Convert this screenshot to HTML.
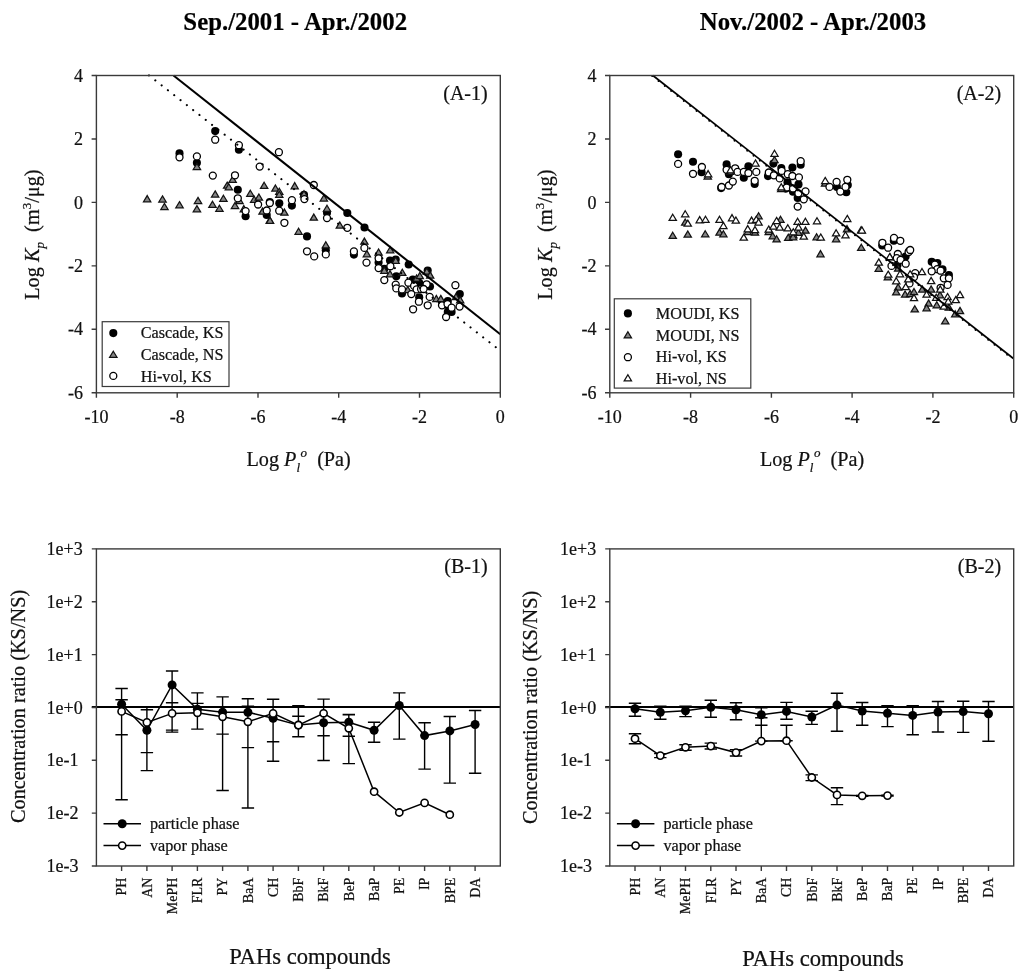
<!DOCTYPE html>
<html lang="en"><head><meta charset="utf-8"><title>PAHs gas/particle partitioning</title>
<style>html,body{margin:0;padding:0;background:#fff}svg{display:block;filter:blur(0.45px)}text{stroke:#111;stroke-width:.22px}</style></head>
<body>
<svg width="1024" height="978" viewBox="0 0 1024 978" font-family="'Liberation Serif', 'Times New Roman', serif" fill="#111">
<rect width="1024" height="978" fill="#fff"/>
<text x="295.2" y="29.5" font-size="24.8" font-weight="bold" text-anchor="middle" fill="#000">Sep./2001 - Apr./2002</text>
<text x="813" y="29.5" font-size="24.8" font-weight="bold" text-anchor="middle" fill="#000">Nov./2002 - Apr./2003</text>
<g>
<circle cx="215.2" cy="131.1" r="4.05" fill="#000"/>
<circle cx="179.5" cy="153.4" r="4.05" fill="#000"/>
<circle cx="196.9" cy="162.8" r="4.05" fill="#000"/>
<circle cx="238.9" cy="149.8" r="4.05" fill="#000"/>
<circle cx="237.8" cy="189.7" r="4.05" fill="#000"/>
<circle cx="279.3" cy="203.3" r="4.05" fill="#000"/>
<circle cx="245.6" cy="216.3" r="4.05" fill="#000"/>
<circle cx="266.7" cy="215.0" r="4.05" fill="#000"/>
<circle cx="269.8" cy="202.0" r="4.05" fill="#000"/>
<circle cx="291.9" cy="205.6" r="4.05" fill="#000"/>
<circle cx="304.0" cy="194.7" r="4.05" fill="#000"/>
<circle cx="327.0" cy="212.7" r="4.05" fill="#000"/>
<circle cx="347.3" cy="213.0" r="4.05" fill="#000"/>
<circle cx="364.5" cy="227.5" r="4.05" fill="#000"/>
<circle cx="307.0" cy="236.4" r="4.05" fill="#000"/>
<circle cx="325.8" cy="250.2" r="4.05" fill="#000"/>
<circle cx="353.9" cy="254.6" r="4.05" fill="#000"/>
<circle cx="378.6" cy="262.4" r="4.05" fill="#000"/>
<circle cx="390.0" cy="260.5" r="4.05" fill="#000"/>
<circle cx="395.7" cy="259.5" r="4.05" fill="#000"/>
<circle cx="408.7" cy="264.5" r="4.05" fill="#000"/>
<circle cx="384.3" cy="268.7" r="4.05" fill="#000"/>
<circle cx="396.3" cy="276.3" r="4.05" fill="#000"/>
<circle cx="412.8" cy="279.5" r="4.05" fill="#000"/>
<circle cx="419.2" cy="282.7" r="4.05" fill="#000"/>
<circle cx="427.7" cy="270.6" r="4.05" fill="#000"/>
<circle cx="430.0" cy="286.5" r="4.05" fill="#000"/>
<circle cx="402.0" cy="293.5" r="4.05" fill="#000"/>
<circle cx="419.2" cy="297.3" r="4.05" fill="#000"/>
<circle cx="447.8" cy="301.1" r="4.05" fill="#000"/>
<circle cx="447.8" cy="311.9" r="4.05" fill="#000"/>
<circle cx="451.6" cy="311.9" r="4.05" fill="#000"/>
<circle cx="459.8" cy="294.1" r="4.05" fill="#000"/>
<polygon points="147.2,195.6 150.8,201.8 143.5,201.8" fill="#858585" stroke="#111" stroke-width="1.25" stroke-linejoin="miter"/>
<polygon points="162.5,195.9 166.2,202.0 158.8,202.0" fill="#858585" stroke="#111" stroke-width="1.25" stroke-linejoin="miter"/>
<polygon points="164.4,203.4 168.1,209.5 160.8,209.5" fill="#858585" stroke="#111" stroke-width="1.25" stroke-linejoin="miter"/>
<polygon points="179.5,201.6 183.2,207.8 175.8,207.8" fill="#858585" stroke="#111" stroke-width="1.25" stroke-linejoin="miter"/>
<polygon points="198.0,197.4 201.7,203.5 194.3,203.5" fill="#858585" stroke="#111" stroke-width="1.25" stroke-linejoin="miter"/>
<polygon points="196.9,205.6 200.6,211.8 193.2,211.8" fill="#858585" stroke="#111" stroke-width="1.25" stroke-linejoin="miter"/>
<polygon points="196.9,163.4 200.6,169.5 193.2,169.5" fill="#858585" stroke="#111" stroke-width="1.25" stroke-linejoin="miter"/>
<polygon points="215.2,190.9 218.8,197.0 211.5,197.0" fill="#858585" stroke="#111" stroke-width="1.25" stroke-linejoin="miter"/>
<polygon points="212.5,201.3 216.2,207.4 208.8,207.4" fill="#858585" stroke="#111" stroke-width="1.25" stroke-linejoin="miter"/>
<polygon points="223.4,195.2 227.1,201.3 219.8,201.3" fill="#858585" stroke="#111" stroke-width="1.25" stroke-linejoin="miter"/>
<polygon points="219.4,205.2 223.1,211.3 215.8,211.3" fill="#858585" stroke="#111" stroke-width="1.25" stroke-linejoin="miter"/>
<polygon points="232.7,176.3 236.3,182.4 229.0,182.4" fill="#858585" stroke="#111" stroke-width="1.25" stroke-linejoin="miter"/>
<polygon points="227.2,182.1 230.8,188.2 223.5,188.2" fill="#858585" stroke="#111" stroke-width="1.25" stroke-linejoin="miter"/>
<polygon points="228.8,183.7 232.5,189.8 225.2,189.8" fill="#858585" stroke="#111" stroke-width="1.25" stroke-linejoin="miter"/>
<polygon points="235.0,202.4 238.7,208.5 231.3,208.5" fill="#858585" stroke="#111" stroke-width="1.25" stroke-linejoin="miter"/>
<polygon points="239.4,197.4 243.1,203.5 235.8,203.5" fill="#858585" stroke="#111" stroke-width="1.25" stroke-linejoin="miter"/>
<polygon points="250.3,190.2 254.0,196.3 246.7,196.3" fill="#858585" stroke="#111" stroke-width="1.25" stroke-linejoin="miter"/>
<polygon points="254.2,196.2 257.8,202.3 250.5,202.3" fill="#858585" stroke="#111" stroke-width="1.25" stroke-linejoin="miter"/>
<polygon points="258.9,194.0 262.5,200.1 255.2,200.1" fill="#858585" stroke="#111" stroke-width="1.25" stroke-linejoin="miter"/>
<polygon points="264.1,182.3 267.8,188.4 260.5,188.4" fill="#858585" stroke="#111" stroke-width="1.25" stroke-linejoin="miter"/>
<polygon points="275.4,185.0 279.0,191.1 271.8,191.1" fill="#858585" stroke="#111" stroke-width="1.25" stroke-linejoin="miter"/>
<polygon points="279.3,188.2 282.9,194.3 275.7,194.3" fill="#858585" stroke="#111" stroke-width="1.25" stroke-linejoin="miter"/>
<polygon points="279.3,191.2 282.9,197.3 275.7,197.3" fill="#858585" stroke="#111" stroke-width="1.25" stroke-linejoin="miter"/>
<polygon points="262.5,208.1 266.1,214.2 258.9,214.2" fill="#858585" stroke="#111" stroke-width="1.25" stroke-linejoin="miter"/>
<polygon points="269.8,217.1 273.4,223.2 266.2,223.2" fill="#858585" stroke="#111" stroke-width="1.25" stroke-linejoin="miter"/>
<polygon points="284.4,209.1 288.0,215.2 280.8,215.2" fill="#858585" stroke="#111" stroke-width="1.25" stroke-linejoin="miter"/>
<polygon points="243.8,205.6 247.5,211.8 240.2,211.8" fill="#858585" stroke="#111" stroke-width="1.25" stroke-linejoin="miter"/>
<polygon points="270.0,217.3 273.6,223.4 266.4,223.4" fill="#858585" stroke="#111" stroke-width="1.25" stroke-linejoin="miter"/>
<polygon points="294.7,182.6 298.3,188.8 291.1,188.8" fill="#858585" stroke="#111" stroke-width="1.25" stroke-linejoin="miter"/>
<polygon points="304.0,190.7 307.6,196.8 300.4,196.8" fill="#858585" stroke="#111" stroke-width="1.25" stroke-linejoin="miter"/>
<polygon points="323.9,194.9 327.5,201.0 320.2,201.0" fill="#858585" stroke="#111" stroke-width="1.25" stroke-linejoin="miter"/>
<polygon points="327.0,205.2 330.6,211.3 323.4,211.3" fill="#858585" stroke="#111" stroke-width="1.25" stroke-linejoin="miter"/>
<polygon points="313.8,214.1 317.4,220.2 310.2,220.2" fill="#858585" stroke="#111" stroke-width="1.25" stroke-linejoin="miter"/>
<polygon points="339.8,222.0 343.4,228.1 336.2,228.1" fill="#858585" stroke="#111" stroke-width="1.25" stroke-linejoin="miter"/>
<polygon points="298.6,228.2 302.2,234.3 295.0,234.3" fill="#858585" stroke="#111" stroke-width="1.25" stroke-linejoin="miter"/>
<polygon points="325.8,241.8 329.4,247.9 322.2,247.9" fill="#858585" stroke="#111" stroke-width="1.25" stroke-linejoin="miter"/>
<polygon points="364.4,238.1 368.0,244.2 360.8,244.2" fill="#858585" stroke="#111" stroke-width="1.25" stroke-linejoin="miter"/>
<polygon points="366.9,250.6 370.5,256.8 363.2,256.8" fill="#858585" stroke="#111" stroke-width="1.25" stroke-linejoin="miter"/>
<polygon points="378.6,249.0 382.2,255.1 375.0,255.1" fill="#858585" stroke="#111" stroke-width="1.25" stroke-linejoin="miter"/>
<polygon points="390.2,246.7 393.8,252.8 386.6,252.8" fill="#858585" stroke="#111" stroke-width="1.25" stroke-linejoin="miter"/>
<polygon points="395.7,257.3 399.3,263.4 392.1,263.4" fill="#858585" stroke="#111" stroke-width="1.25" stroke-linejoin="miter"/>
<polygon points="384.3,267.2 387.9,273.3 380.7,273.3" fill="#858585" stroke="#111" stroke-width="1.25" stroke-linejoin="miter"/>
<polygon points="390.0,270.6 393.6,276.8 386.4,276.8" fill="#858585" stroke="#111" stroke-width="1.25" stroke-linejoin="miter"/>
<polygon points="402.3,269.3 405.9,275.4 398.7,275.4" fill="#858585" stroke="#111" stroke-width="1.25" stroke-linejoin="miter"/>
<polygon points="416.6,275.0 420.2,281.1 413.0,281.1" fill="#858585" stroke="#111" stroke-width="1.25" stroke-linejoin="miter"/>
<polygon points="419.8,272.5 423.4,278.6 416.2,278.6" fill="#858585" stroke="#111" stroke-width="1.25" stroke-linejoin="miter"/>
<polygon points="426.8,268.1 430.4,274.2 423.2,274.2" fill="#858585" stroke="#111" stroke-width="1.25" stroke-linejoin="miter"/>
<polygon points="430.2,271.9 433.8,278.1 426.6,278.1" fill="#858585" stroke="#111" stroke-width="1.25" stroke-linejoin="miter"/>
<polygon points="407.8,286.5 411.4,292.6 404.2,292.6" fill="#858585" stroke="#111" stroke-width="1.25" stroke-linejoin="miter"/>
<polygon points="436.3,295.4 439.9,301.6 432.7,301.6" fill="#858585" stroke="#111" stroke-width="1.25" stroke-linejoin="miter"/>
<polygon points="440.8,295.4 444.4,301.6 437.2,301.6" fill="#858585" stroke="#111" stroke-width="1.25" stroke-linejoin="miter"/>
<polygon points="456.0,293.4 459.6,299.6 452.4,299.6" fill="#858585" stroke="#111" stroke-width="1.25" stroke-linejoin="miter"/>
<polygon points="460.2,296.6 463.8,302.8 456.6,302.8" fill="#858585" stroke="#111" stroke-width="1.25" stroke-linejoin="miter"/>
<circle cx="215.2" cy="139.7" r="3.5" fill="#fff" stroke="#000" stroke-width="1.3"/>
<circle cx="179.5" cy="157.3" r="3.5" fill="#fff" stroke="#000" stroke-width="1.3"/>
<circle cx="196.9" cy="156.4" r="3.5" fill="#fff" stroke="#000" stroke-width="1.3"/>
<circle cx="238.9" cy="145.2" r="3.5" fill="#fff" stroke="#000" stroke-width="1.3"/>
<circle cx="278.9" cy="152.2" r="3.5" fill="#fff" stroke="#000" stroke-width="1.3"/>
<circle cx="259.7" cy="166.6" r="3.5" fill="#fff" stroke="#000" stroke-width="1.3"/>
<circle cx="212.8" cy="175.6" r="3.5" fill="#fff" stroke="#000" stroke-width="1.3"/>
<circle cx="235.0" cy="175.3" r="3.5" fill="#fff" stroke="#000" stroke-width="1.3"/>
<circle cx="237.8" cy="198.3" r="3.5" fill="#fff" stroke="#000" stroke-width="1.3"/>
<circle cx="258.1" cy="204.5" r="3.5" fill="#fff" stroke="#000" stroke-width="1.3"/>
<circle cx="269.8" cy="203.0" r="3.5" fill="#fff" stroke="#000" stroke-width="1.3"/>
<circle cx="245.6" cy="211.1" r="3.5" fill="#fff" stroke="#000" stroke-width="1.3"/>
<circle cx="266.7" cy="210.5" r="3.5" fill="#fff" stroke="#000" stroke-width="1.3"/>
<circle cx="279.2" cy="210.7" r="3.5" fill="#fff" stroke="#000" stroke-width="1.3"/>
<circle cx="284.4" cy="222.8" r="3.5" fill="#fff" stroke="#000" stroke-width="1.3"/>
<circle cx="313.8" cy="185.0" r="3.5" fill="#fff" stroke="#000" stroke-width="1.3"/>
<circle cx="291.9" cy="200.2" r="3.5" fill="#fff" stroke="#000" stroke-width="1.3"/>
<circle cx="304.4" cy="199.1" r="3.5" fill="#fff" stroke="#000" stroke-width="1.3"/>
<circle cx="327.0" cy="218.1" r="3.5" fill="#fff" stroke="#000" stroke-width="1.3"/>
<circle cx="347.3" cy="227.8" r="3.5" fill="#fff" stroke="#000" stroke-width="1.3"/>
<circle cx="307.0" cy="251.3" r="3.5" fill="#fff" stroke="#000" stroke-width="1.3"/>
<circle cx="314.2" cy="256.4" r="3.5" fill="#fff" stroke="#000" stroke-width="1.3"/>
<circle cx="325.8" cy="254.4" r="3.5" fill="#fff" stroke="#000" stroke-width="1.3"/>
<circle cx="353.9" cy="251.4" r="3.5" fill="#fff" stroke="#000" stroke-width="1.3"/>
<circle cx="364.4" cy="247.9" r="3.5" fill="#fff" stroke="#000" stroke-width="1.3"/>
<circle cx="378.6" cy="258.3" r="3.5" fill="#fff" stroke="#000" stroke-width="1.3"/>
<circle cx="366.5" cy="262.6" r="3.5" fill="#fff" stroke="#000" stroke-width="1.3"/>
<circle cx="378.6" cy="268.1" r="3.5" fill="#fff" stroke="#000" stroke-width="1.3"/>
<circle cx="390.4" cy="266.2" r="3.5" fill="#fff" stroke="#000" stroke-width="1.3"/>
<circle cx="384.3" cy="280.1" r="3.5" fill="#fff" stroke="#000" stroke-width="1.3"/>
<circle cx="395.7" cy="284.6" r="3.5" fill="#fff" stroke="#000" stroke-width="1.3"/>
<circle cx="396.3" cy="288.4" r="3.5" fill="#fff" stroke="#000" stroke-width="1.3"/>
<circle cx="402.0" cy="289.4" r="3.5" fill="#fff" stroke="#000" stroke-width="1.3"/>
<circle cx="408.4" cy="282.7" r="3.5" fill="#fff" stroke="#000" stroke-width="1.3"/>
<circle cx="414.1" cy="285.9" r="3.5" fill="#fff" stroke="#000" stroke-width="1.3"/>
<circle cx="416.6" cy="289.4" r="3.5" fill="#fff" stroke="#000" stroke-width="1.3"/>
<circle cx="411.3" cy="294.1" r="3.5" fill="#fff" stroke="#000" stroke-width="1.3"/>
<circle cx="421.1" cy="289.0" r="3.5" fill="#fff" stroke="#000" stroke-width="1.3"/>
<circle cx="426.6" cy="284.3" r="3.5" fill="#fff" stroke="#000" stroke-width="1.3"/>
<circle cx="429.7" cy="296.9" r="3.5" fill="#fff" stroke="#000" stroke-width="1.3"/>
<circle cx="418.9" cy="301.7" r="3.5" fill="#fff" stroke="#000" stroke-width="1.3"/>
<circle cx="427.7" cy="305.3" r="3.5" fill="#fff" stroke="#000" stroke-width="1.3"/>
<circle cx="413.1" cy="309.3" r="3.5" fill="#fff" stroke="#000" stroke-width="1.3"/>
<circle cx="442.0" cy="305.3" r="3.5" fill="#fff" stroke="#000" stroke-width="1.3"/>
<circle cx="447.5" cy="304.0" r="3.5" fill="#fff" stroke="#000" stroke-width="1.3"/>
<circle cx="451.6" cy="307.7" r="3.5" fill="#fff" stroke="#000" stroke-width="1.3"/>
<circle cx="446.1" cy="317.0" r="3.5" fill="#fff" stroke="#000" stroke-width="1.3"/>
<circle cx="459.6" cy="306.6" r="3.5" fill="#fff" stroke="#000" stroke-width="1.3"/>
<circle cx="455.4" cy="285.2" r="3.5" fill="#fff" stroke="#000" stroke-width="1.3"/>
<circle cx="423.6" cy="289.0" r="3.5" fill="#fff" stroke="#000" stroke-width="1.3"/>
<line x1="149" y1="75.4" x2="500" y2="350.5" stroke="#000" stroke-width="2.1" stroke-linecap="round" stroke-dasharray="0.1 7.91"/>
<line x1="173.5" y1="75.5" x2="500.3" y2="334.2" stroke="#000" stroke-width="2.05"/>
</g>
<rect x="96.4" y="75.5" width="403.9" height="317.3" fill="none" stroke="#3a3a3a" stroke-width="1.4"/>
<g>
<path d="M96.4,392.8v5M96.4,75.5h-4.8M177.2,392.8v5M96.4,139.0h-4.8M258.0,392.8v5M96.4,202.4h-4.8M338.7,392.8v5M96.4,265.9h-4.8M419.5,392.8v5M96.4,329.3h-4.8M500.3,392.8v5M96.4,392.8h-4.8" stroke="#3a3a3a" stroke-width="1.4" fill="none"/>
<text x="96.4" y="423.4" font-size="18" text-anchor="middle">-10</text>
<text x="177.2" y="423.4" font-size="18" text-anchor="middle">-8</text>
<text x="258.0" y="423.4" font-size="18" text-anchor="middle">-6</text>
<text x="338.7" y="423.4" font-size="18" text-anchor="middle">-4</text>
<text x="419.5" y="423.4" font-size="18" text-anchor="middle">-2</text>
<text x="500.3" y="423.4" font-size="18" text-anchor="middle">0</text>
<text x="83.0" y="81.6" font-size="18" text-anchor="end">4</text>
<text x="83.0" y="145.1" font-size="18" text-anchor="end">2</text>
<text x="83.0" y="208.5" font-size="18" text-anchor="end">0</text>
<text x="83.0" y="272.0" font-size="18" text-anchor="end">-2</text>
<text x="83.0" y="335.4" font-size="18" text-anchor="end">-4</text>
<text x="83.0" y="398.9" font-size="18" text-anchor="end">-6</text>
<text x="487.7" y="99.8" font-size="20" text-anchor="end">(A-1)</text>
<text transform="translate(38.7,299.8) rotate(-90)" font-size="20.3">Log <tspan font-style="italic">K</tspan><tspan font-style="italic" font-size="13" dy="5">p</tspan><tspan dy="-5" xml:space="preserve">  (m</tspan><tspan font-size="13" dy="-8">3</tspan><tspan dy="8">/μg)</tspan></text>
<text x="246.5" y="466.1" font-size="20.2" xml:space="preserve">Log <tspan font-style="italic">P</tspan><tspan font-style="italic" font-size="13" dy="5.5">l</tspan><tspan font-style="italic" font-size="13" dy="-14.5" dx="0.5">o</tspan><tspan dy="9">  (Pa)</tspan></text>
</g>
<rect x="102.2" y="321.7" width="126.8" height="64.8" fill="#fff" stroke="#3a3a3a" stroke-width="1.2"/>
<circle cx="113.3" cy="333.1" r="4.05" fill="#000"/>
<polygon points="113.3,351.2 117.0,357.3 109.6,357.3" fill="#858585" stroke="#111" stroke-width="1.25" stroke-linejoin="miter"/>
<circle cx="113.3" cy="375.9" r="3.5" fill="#fff" stroke="#000" stroke-width="1.3"/>
<text x="140.8" y="338.1" font-size="16.2">Cascade, KS</text>
<text x="140.8" y="359.8" font-size="16.2">Cascade, NS</text>
<text x="140.8" y="381.5" font-size="16.2">Hi-vol, KS</text>
<g>
<circle cx="678.1" cy="154.2" r="4.05" fill="#000"/>
<circle cx="693.0" cy="161.7" r="4.05" fill="#000"/>
<circle cx="701.6" cy="172.2" r="4.05" fill="#000"/>
<circle cx="726.6" cy="164.4" r="4.05" fill="#000"/>
<circle cx="728.9" cy="174.2" r="4.05" fill="#000"/>
<circle cx="743.8" cy="177.7" r="4.05" fill="#000"/>
<circle cx="748.4" cy="166.3" r="4.05" fill="#000"/>
<circle cx="754.7" cy="183.9" r="4.05" fill="#000"/>
<circle cx="768.0" cy="176.1" r="4.05" fill="#000"/>
<circle cx="773.4" cy="163.6" r="4.05" fill="#000"/>
<circle cx="781.3" cy="168.0" r="4.05" fill="#000"/>
<circle cx="792.4" cy="167.6" r="4.05" fill="#000"/>
<circle cx="800.7" cy="164.7" r="4.05" fill="#000"/>
<circle cx="787.5" cy="182.3" r="4.05" fill="#000"/>
<circle cx="798.5" cy="184.4" r="4.05" fill="#000"/>
<circle cx="793.0" cy="191.7" r="4.05" fill="#000"/>
<circle cx="797.7" cy="197.9" r="4.05" fill="#000"/>
<circle cx="785.9" cy="188.6" r="4.05" fill="#000"/>
<circle cx="721.1" cy="188.1" r="4.05" fill="#000"/>
<circle cx="836.9" cy="186.9" r="4.05" fill="#000"/>
<circle cx="846.3" cy="192.3" r="4.05" fill="#000"/>
<circle cx="847.8" cy="185.0" r="4.05" fill="#000"/>
<circle cx="882.2" cy="245.5" r="4.05" fill="#000"/>
<circle cx="893.8" cy="240.8" r="4.05" fill="#000"/>
<circle cx="905.6" cy="256.5" r="4.05" fill="#000"/>
<circle cx="909.2" cy="251.0" r="4.05" fill="#000"/>
<circle cx="931.7" cy="261.8" r="4.05" fill="#000"/>
<circle cx="937.4" cy="263.1" r="4.05" fill="#000"/>
<circle cx="942.5" cy="269.4" r="4.05" fill="#000"/>
<circle cx="948.9" cy="275.1" r="4.05" fill="#000"/>
<circle cx="897.5" cy="265.0" r="4.05" fill="#000"/>
<polygon points="672.7,232.3 676.4,238.4 669.1,238.4" fill="#858585" stroke="#111" stroke-width="1.25" stroke-linejoin="miter"/>
<polygon points="687.8,231.0 691.4,237.1 684.1,237.1" fill="#858585" stroke="#111" stroke-width="1.25" stroke-linejoin="miter"/>
<polygon points="705.2,230.7 708.9,236.8 701.6,236.8" fill="#858585" stroke="#111" stroke-width="1.25" stroke-linejoin="miter"/>
<polygon points="719.5,229.1 723.1,235.2 715.9,235.2" fill="#858585" stroke="#111" stroke-width="1.25" stroke-linejoin="miter"/>
<polygon points="723.4,230.7 727.0,236.8 719.8,236.8" fill="#858585" stroke="#111" stroke-width="1.25" stroke-linejoin="miter"/>
<polygon points="707.8,172.9 711.4,179.0 704.1,179.0" fill="#858585" stroke="#111" stroke-width="1.25" stroke-linejoin="miter"/>
<polygon points="730.0,168.2 733.6,174.3 726.4,174.3" fill="#858585" stroke="#111" stroke-width="1.25" stroke-linejoin="miter"/>
<polygon points="774.5,156.5 778.1,162.6 770.9,162.6" fill="#858585" stroke="#111" stroke-width="1.25" stroke-linejoin="miter"/>
<polygon points="758.6,212.7 762.2,218.8 755.0,218.8" fill="#858585" stroke="#111" stroke-width="1.25" stroke-linejoin="miter"/>
<polygon points="781.3,185.4 784.9,191.5 777.6,191.5" fill="#858585" stroke="#111" stroke-width="1.25" stroke-linejoin="miter"/>
<polygon points="685.2,219.0 688.9,225.1 681.6,225.1" fill="#858585" stroke="#111" stroke-width="1.25" stroke-linejoin="miter"/>
<polygon points="747.7,228.4 751.4,234.5 744.1,234.5" fill="#858585" stroke="#111" stroke-width="1.25" stroke-linejoin="miter"/>
<polygon points="755.0,229.1 758.6,235.2 751.4,235.2" fill="#858585" stroke="#111" stroke-width="1.25" stroke-linejoin="miter"/>
<polygon points="768.8,228.4 772.4,234.5 765.1,234.5" fill="#858585" stroke="#111" stroke-width="1.25" stroke-linejoin="miter"/>
<polygon points="772.7,232.7 776.4,238.8 769.1,238.8" fill="#858585" stroke="#111" stroke-width="1.25" stroke-linejoin="miter"/>
<polygon points="776.6,235.8 780.2,241.9 773.0,241.9" fill="#858585" stroke="#111" stroke-width="1.25" stroke-linejoin="miter"/>
<polygon points="788.3,234.3 791.9,240.4 784.6,240.4" fill="#858585" stroke="#111" stroke-width="1.25" stroke-linejoin="miter"/>
<polygon points="793.4,231.8 797.0,237.9 789.8,237.9" fill="#858585" stroke="#111" stroke-width="1.25" stroke-linejoin="miter"/>
<polygon points="798.4,229.3 802.0,235.4 794.8,235.4" fill="#858585" stroke="#111" stroke-width="1.25" stroke-linejoin="miter"/>
<polygon points="805.5,227.1 809.1,233.2 801.9,233.2" fill="#858585" stroke="#111" stroke-width="1.25" stroke-linejoin="miter"/>
<polygon points="780.5,216.2 784.1,222.3 776.9,222.3" fill="#858585" stroke="#111" stroke-width="1.25" stroke-linejoin="miter"/>
<polygon points="825.0,180.1 828.6,186.2 821.4,186.2" fill="#858585" stroke="#111" stroke-width="1.25" stroke-linejoin="miter"/>
<polygon points="793.1,233.7 796.8,239.8 789.5,239.8" fill="#858585" stroke="#111" stroke-width="1.25" stroke-linejoin="miter"/>
<polygon points="816.6,233.7 820.2,239.8 813.0,239.8" fill="#858585" stroke="#111" stroke-width="1.25" stroke-linejoin="miter"/>
<polygon points="836.1,235.6 839.8,241.8 832.5,241.8" fill="#858585" stroke="#111" stroke-width="1.25" stroke-linejoin="miter"/>
<polygon points="847.0,225.6 850.6,231.8 843.4,231.8" fill="#858585" stroke="#111" stroke-width="1.25" stroke-linejoin="miter"/>
<polygon points="861.3,244.3 864.9,250.4 857.6,250.4" fill="#858585" stroke="#111" stroke-width="1.25" stroke-linejoin="miter"/>
<polygon points="820.5,250.6 824.1,256.8 816.9,256.8" fill="#858585" stroke="#111" stroke-width="1.25" stroke-linejoin="miter"/>
<polygon points="878.8,265.2 882.4,271.3 875.1,271.3" fill="#858585" stroke="#111" stroke-width="1.25" stroke-linejoin="miter"/>
<polygon points="887.9,273.8 891.5,279.9 884.2,279.9" fill="#858585" stroke="#111" stroke-width="1.25" stroke-linejoin="miter"/>
<polygon points="898.1,284.0 901.8,290.1 894.5,290.1" fill="#858585" stroke="#111" stroke-width="1.25" stroke-linejoin="miter"/>
<polygon points="896.2,288.8 899.9,294.9 892.6,294.9" fill="#858585" stroke="#111" stroke-width="1.25" stroke-linejoin="miter"/>
<polygon points="905.1,291.0 908.8,297.1 901.5,297.1" fill="#858585" stroke="#111" stroke-width="1.25" stroke-linejoin="miter"/>
<polygon points="910.1,290.4 913.8,296.6 906.5,296.6" fill="#858585" stroke="#111" stroke-width="1.25" stroke-linejoin="miter"/>
<polygon points="914.0,288.5 917.6,294.6 910.4,294.6" fill="#858585" stroke="#111" stroke-width="1.25" stroke-linejoin="miter"/>
<polygon points="922.2,285.9 925.9,292.1 918.6,292.1" fill="#858585" stroke="#111" stroke-width="1.25" stroke-linejoin="miter"/>
<polygon points="931.1,285.9 934.8,292.1 927.5,292.1" fill="#858585" stroke="#111" stroke-width="1.25" stroke-linejoin="miter"/>
<polygon points="940.0,291.6 943.6,297.8 936.4,297.8" fill="#858585" stroke="#111" stroke-width="1.25" stroke-linejoin="miter"/>
<polygon points="928.6,299.9 932.2,306.1 925.0,306.1" fill="#858585" stroke="#111" stroke-width="1.25" stroke-linejoin="miter"/>
<polygon points="926.6,304.6 930.2,310.8 923.0,310.8" fill="#858585" stroke="#111" stroke-width="1.25" stroke-linejoin="miter"/>
<polygon points="936.8,301.8 940.4,307.9 933.1,307.9" fill="#858585" stroke="#111" stroke-width="1.25" stroke-linejoin="miter"/>
<polygon points="914.8,305.8 918.4,311.9 911.1,311.9" fill="#858585" stroke="#111" stroke-width="1.25" stroke-linejoin="miter"/>
<polygon points="948.9,304.1 952.5,310.2 945.2,310.2" fill="#858585" stroke="#111" stroke-width="1.25" stroke-linejoin="miter"/>
<polygon points="955.2,310.7 958.9,316.8 951.6,316.8" fill="#858585" stroke="#111" stroke-width="1.25" stroke-linejoin="miter"/>
<polygon points="960.0,307.4 963.6,313.6 956.4,313.6" fill="#858585" stroke="#111" stroke-width="1.25" stroke-linejoin="miter"/>
<polygon points="945.3,317.8 948.9,323.9 941.6,323.9" fill="#858585" stroke="#111" stroke-width="1.25" stroke-linejoin="miter"/>
<polygon points="898.1,265.0 901.8,271.1 894.5,271.1" fill="#858585" stroke="#111" stroke-width="1.25" stroke-linejoin="miter"/>
<circle cx="678.1" cy="163.9" r="3.5" fill="#fff" stroke="#000" stroke-width="1.3"/>
<circle cx="693.0" cy="173.8" r="3.5" fill="#fff" stroke="#000" stroke-width="1.3"/>
<circle cx="701.9" cy="167.0" r="3.5" fill="#fff" stroke="#000" stroke-width="1.3"/>
<circle cx="721.6" cy="187.0" r="3.5" fill="#fff" stroke="#000" stroke-width="1.3"/>
<circle cx="728.9" cy="185.5" r="3.5" fill="#fff" stroke="#000" stroke-width="1.3"/>
<circle cx="732.8" cy="181.6" r="3.5" fill="#fff" stroke="#000" stroke-width="1.3"/>
<circle cx="726.6" cy="169.8" r="3.5" fill="#fff" stroke="#000" stroke-width="1.3"/>
<circle cx="735.2" cy="168.3" r="3.5" fill="#fff" stroke="#000" stroke-width="1.3"/>
<circle cx="737.5" cy="171.9" r="3.5" fill="#fff" stroke="#000" stroke-width="1.3"/>
<circle cx="743.8" cy="171.9" r="3.5" fill="#fff" stroke="#000" stroke-width="1.3"/>
<circle cx="748.4" cy="173.0" r="3.5" fill="#fff" stroke="#000" stroke-width="1.3"/>
<circle cx="756.3" cy="171.9" r="3.5" fill="#fff" stroke="#000" stroke-width="1.3"/>
<circle cx="754.7" cy="180.8" r="3.5" fill="#fff" stroke="#000" stroke-width="1.3"/>
<circle cx="768.8" cy="172.5" r="3.5" fill="#fff" stroke="#000" stroke-width="1.3"/>
<circle cx="773.9" cy="175.3" r="3.5" fill="#fff" stroke="#000" stroke-width="1.3"/>
<circle cx="779.7" cy="178.4" r="3.5" fill="#fff" stroke="#000" stroke-width="1.3"/>
<circle cx="781.7" cy="170.9" r="3.5" fill="#fff" stroke="#000" stroke-width="1.3"/>
<circle cx="787.8" cy="174.2" r="3.5" fill="#fff" stroke="#000" stroke-width="1.3"/>
<circle cx="792.4" cy="176.0" r="3.5" fill="#fff" stroke="#000" stroke-width="1.3"/>
<circle cx="798.9" cy="177.4" r="3.5" fill="#fff" stroke="#000" stroke-width="1.3"/>
<circle cx="800.7" cy="161.2" r="3.5" fill="#fff" stroke="#000" stroke-width="1.3"/>
<circle cx="786.7" cy="187.5" r="3.5" fill="#fff" stroke="#000" stroke-width="1.3"/>
<circle cx="793.0" cy="188.5" r="3.5" fill="#fff" stroke="#000" stroke-width="1.3"/>
<circle cx="798.4" cy="193.3" r="3.5" fill="#fff" stroke="#000" stroke-width="1.3"/>
<circle cx="805.5" cy="191.4" r="3.5" fill="#fff" stroke="#000" stroke-width="1.3"/>
<circle cx="803.8" cy="199.3" r="3.5" fill="#fff" stroke="#000" stroke-width="1.3"/>
<circle cx="797.7" cy="206.6" r="3.5" fill="#fff" stroke="#000" stroke-width="1.3"/>
<circle cx="829.5" cy="186.9" r="3.5" fill="#fff" stroke="#000" stroke-width="1.3"/>
<circle cx="836.6" cy="181.9" r="3.5" fill="#fff" stroke="#000" stroke-width="1.3"/>
<circle cx="840.3" cy="191.6" r="3.5" fill="#fff" stroke="#000" stroke-width="1.3"/>
<circle cx="845.5" cy="186.9" r="3.5" fill="#fff" stroke="#000" stroke-width="1.3"/>
<circle cx="847.3" cy="179.8" r="3.5" fill="#fff" stroke="#000" stroke-width="1.3"/>
<circle cx="882.4" cy="242.8" r="3.5" fill="#fff" stroke="#000" stroke-width="1.3"/>
<circle cx="888.1" cy="247.7" r="3.5" fill="#fff" stroke="#000" stroke-width="1.3"/>
<circle cx="894.0" cy="237.9" r="3.5" fill="#fff" stroke="#000" stroke-width="1.3"/>
<circle cx="900.3" cy="240.8" r="3.5" fill="#fff" stroke="#000" stroke-width="1.3"/>
<circle cx="897.8" cy="254.0" r="3.5" fill="#fff" stroke="#000" stroke-width="1.3"/>
<circle cx="896.8" cy="258.2" r="3.5" fill="#fff" stroke="#000" stroke-width="1.3"/>
<circle cx="900.6" cy="259.9" r="3.5" fill="#fff" stroke="#000" stroke-width="1.3"/>
<circle cx="908.6" cy="252.0" r="3.5" fill="#fff" stroke="#000" stroke-width="1.3"/>
<circle cx="910.2" cy="250.0" r="3.5" fill="#fff" stroke="#000" stroke-width="1.3"/>
<circle cx="905.7" cy="263.7" r="3.5" fill="#fff" stroke="#000" stroke-width="1.3"/>
<circle cx="891.5" cy="265.9" r="3.5" fill="#fff" stroke="#000" stroke-width="1.3"/>
<circle cx="915.2" cy="273.2" r="3.5" fill="#fff" stroke="#000" stroke-width="1.3"/>
<circle cx="914.0" cy="277.0" r="3.5" fill="#fff" stroke="#000" stroke-width="1.3"/>
<circle cx="909.5" cy="283.4" r="3.5" fill="#fff" stroke="#000" stroke-width="1.3"/>
<circle cx="934.9" cy="264.6" r="3.5" fill="#fff" stroke="#000" stroke-width="1.3"/>
<circle cx="937.2" cy="269.2" r="3.5" fill="#fff" stroke="#000" stroke-width="1.3"/>
<circle cx="931.7" cy="271.3" r="3.5" fill="#fff" stroke="#000" stroke-width="1.3"/>
<circle cx="940.6" cy="270.7" r="3.5" fill="#fff" stroke="#000" stroke-width="1.3"/>
<circle cx="943.8" cy="278.3" r="3.5" fill="#fff" stroke="#000" stroke-width="1.3"/>
<circle cx="948.9" cy="278.3" r="3.5" fill="#fff" stroke="#000" stroke-width="1.3"/>
<circle cx="947.6" cy="284.9" r="3.5" fill="#fff" stroke="#000" stroke-width="1.3"/>
<circle cx="940.6" cy="287.8" r="3.5" fill="#fff" stroke="#000" stroke-width="1.3"/>
<polygon points="672.7,214.3 676.4,220.4 669.1,220.4" fill="#fff" stroke="#111" stroke-width="1.25" stroke-linejoin="miter"/>
<polygon points="685.2,210.7 688.9,216.8 681.6,216.8" fill="#fff" stroke="#111" stroke-width="1.25" stroke-linejoin="miter"/>
<polygon points="687.8,220.1 691.4,226.2 684.1,226.2" fill="#fff" stroke="#111" stroke-width="1.25" stroke-linejoin="miter"/>
<polygon points="699.7,216.6 703.4,222.8 696.1,222.8" fill="#fff" stroke="#111" stroke-width="1.25" stroke-linejoin="miter"/>
<polygon points="705.5,216.2 709.1,222.3 701.9,222.3" fill="#fff" stroke="#111" stroke-width="1.25" stroke-linejoin="miter"/>
<polygon points="719.5,216.3 723.1,222.4 715.9,222.4" fill="#fff" stroke="#111" stroke-width="1.25" stroke-linejoin="miter"/>
<polygon points="723.4,222.4 727.0,228.5 719.8,228.5" fill="#fff" stroke="#111" stroke-width="1.25" stroke-linejoin="miter"/>
<polygon points="732.0,214.6 735.6,220.8 728.4,220.8" fill="#fff" stroke="#111" stroke-width="1.25" stroke-linejoin="miter"/>
<polygon points="735.9,217.0 739.5,223.1 732.2,223.1" fill="#fff" stroke="#111" stroke-width="1.25" stroke-linejoin="miter"/>
<polygon points="751.6,217.1 755.2,223.2 748.0,223.2" fill="#fff" stroke="#111" stroke-width="1.25" stroke-linejoin="miter"/>
<polygon points="756.3,216.2 759.9,222.3 752.6,222.3" fill="#fff" stroke="#111" stroke-width="1.25" stroke-linejoin="miter"/>
<polygon points="758.6,219.0 762.2,225.1 755.0,225.1" fill="#fff" stroke="#111" stroke-width="1.25" stroke-linejoin="miter"/>
<polygon points="747.7,225.6 751.4,231.8 744.1,231.8" fill="#fff" stroke="#111" stroke-width="1.25" stroke-linejoin="miter"/>
<polygon points="755.0,226.5 758.6,232.6 751.4,232.6" fill="#fff" stroke="#111" stroke-width="1.25" stroke-linejoin="miter"/>
<polygon points="743.8,234.1 747.4,240.2 740.1,240.2" fill="#fff" stroke="#111" stroke-width="1.25" stroke-linejoin="miter"/>
<polygon points="768.8,226.0 772.4,232.1 765.1,232.1" fill="#fff" stroke="#111" stroke-width="1.25" stroke-linejoin="miter"/>
<polygon points="773.4,222.9 777.0,229.0 769.8,229.0" fill="#fff" stroke="#111" stroke-width="1.25" stroke-linejoin="miter"/>
<polygon points="776.6,217.4 780.2,223.5 773.0,223.5" fill="#fff" stroke="#111" stroke-width="1.25" stroke-linejoin="miter"/>
<polygon points="779.7,224.0 783.4,230.1 776.1,230.1" fill="#fff" stroke="#111" stroke-width="1.25" stroke-linejoin="miter"/>
<polygon points="787.8,224.8 791.4,230.9 784.1,230.9" fill="#fff" stroke="#111" stroke-width="1.25" stroke-linejoin="miter"/>
<polygon points="797.6,218.3 801.2,224.4 794.0,224.4" fill="#fff" stroke="#111" stroke-width="1.25" stroke-linejoin="miter"/>
<polygon points="805.4,218.3 809.0,224.4 801.8,224.4" fill="#fff" stroke="#111" stroke-width="1.25" stroke-linejoin="miter"/>
<polygon points="798.5,224.0 802.1,230.1 794.9,230.1" fill="#fff" stroke="#111" stroke-width="1.25" stroke-linejoin="miter"/>
<polygon points="793.3,228.7 796.9,234.8 789.6,234.8" fill="#fff" stroke="#111" stroke-width="1.25" stroke-linejoin="miter"/>
<polygon points="803.8,233.0 807.4,239.1 800.1,239.1" fill="#fff" stroke="#111" stroke-width="1.25" stroke-linejoin="miter"/>
<polygon points="708.1,170.6 711.8,176.8 704.5,176.8" fill="#fff" stroke="#111" stroke-width="1.25" stroke-linejoin="miter"/>
<polygon points="755.5,159.9 759.1,166.0 751.9,166.0" fill="#fff" stroke="#111" stroke-width="1.25" stroke-linejoin="miter"/>
<polygon points="774.5,150.2 778.1,156.3 770.9,156.3" fill="#fff" stroke="#111" stroke-width="1.25" stroke-linejoin="miter"/>
<polygon points="781.3,183.8 784.9,189.9 777.6,189.9" fill="#fff" stroke="#111" stroke-width="1.25" stroke-linejoin="miter"/>
<polygon points="730.5,166.6 734.1,172.8 726.9,172.8" fill="#fff" stroke="#111" stroke-width="1.25" stroke-linejoin="miter"/>
<polygon points="825.2,177.4 828.9,183.5 821.6,183.5" fill="#fff" stroke="#111" stroke-width="1.25" stroke-linejoin="miter"/>
<polygon points="817.0,217.7 820.6,223.8 813.4,223.8" fill="#fff" stroke="#111" stroke-width="1.25" stroke-linejoin="miter"/>
<polygon points="820.8,234.0 824.4,240.1 817.1,240.1" fill="#fff" stroke="#111" stroke-width="1.25" stroke-linejoin="miter"/>
<polygon points="836.1,229.8 839.8,235.9 832.5,235.9" fill="#fff" stroke="#111" stroke-width="1.25" stroke-linejoin="miter"/>
<polygon points="845.5,231.8 849.1,237.9 841.9,237.9" fill="#fff" stroke="#111" stroke-width="1.25" stroke-linejoin="miter"/>
<polygon points="847.3,215.4 850.9,221.5 843.6,221.5" fill="#fff" stroke="#111" stroke-width="1.25" stroke-linejoin="miter"/>
<polygon points="861.1,226.7 864.8,232.8 857.5,232.8" fill="#fff" stroke="#111" stroke-width="1.25" stroke-linejoin="miter"/>
<polygon points="890.0,253.7 893.6,259.8 886.4,259.8" fill="#fff" stroke="#111" stroke-width="1.25" stroke-linejoin="miter"/>
<polygon points="861.9,226.9 865.5,233.0 858.2,233.0" fill="#fff" stroke="#111" stroke-width="1.25" stroke-linejoin="miter"/>
<polygon points="878.8,258.9 882.4,265.1 875.1,265.1" fill="#fff" stroke="#111" stroke-width="1.25" stroke-linejoin="miter"/>
<polygon points="889.8,253.5 893.4,259.6 886.1,259.6" fill="#fff" stroke="#111" stroke-width="1.25" stroke-linejoin="miter"/>
<polygon points="888.2,271.1 891.9,277.2 884.6,277.2" fill="#fff" stroke="#111" stroke-width="1.25" stroke-linejoin="miter"/>
<polygon points="896.2,277.7 899.9,283.8 892.6,283.8" fill="#fff" stroke="#111" stroke-width="1.25" stroke-linejoin="miter"/>
<polygon points="900.0,270.7 903.6,276.8 896.4,276.8" fill="#fff" stroke="#111" stroke-width="1.25" stroke-linejoin="miter"/>
<polygon points="905.7,283.4 909.4,289.6 902.1,289.6" fill="#fff" stroke="#111" stroke-width="1.25" stroke-linejoin="miter"/>
<polygon points="908.2,275.8 911.9,281.9 904.6,281.9" fill="#fff" stroke="#111" stroke-width="1.25" stroke-linejoin="miter"/>
<polygon points="910.1,270.7 913.8,276.8 906.5,276.8" fill="#fff" stroke="#111" stroke-width="1.25" stroke-linejoin="miter"/>
<polygon points="922.0,268.5 925.6,274.6 918.4,274.6" fill="#fff" stroke="#111" stroke-width="1.25" stroke-linejoin="miter"/>
<polygon points="931.1,277.4 934.8,283.6 927.5,283.6" fill="#fff" stroke="#111" stroke-width="1.25" stroke-linejoin="miter"/>
<polygon points="914.0,294.4 917.6,300.6 910.4,300.6" fill="#fff" stroke="#111" stroke-width="1.25" stroke-linejoin="miter"/>
<polygon points="926.6,291.0 930.2,297.1 923.0,297.1" fill="#fff" stroke="#111" stroke-width="1.25" stroke-linejoin="miter"/>
<polygon points="940.2,285.9 943.9,292.1 936.6,292.1" fill="#fff" stroke="#111" stroke-width="1.25" stroke-linejoin="miter"/>
<polygon points="936.2,294.2 939.9,300.3 932.6,300.3" fill="#fff" stroke="#111" stroke-width="1.25" stroke-linejoin="miter"/>
<polygon points="947.6,293.5 951.2,299.6 944.0,299.6" fill="#fff" stroke="#111" stroke-width="1.25" stroke-linejoin="miter"/>
<polygon points="948.2,298.0 951.9,304.1 944.6,304.1" fill="#fff" stroke="#111" stroke-width="1.25" stroke-linejoin="miter"/>
<polygon points="943.8,303.1 947.4,309.2 940.1,309.2" fill="#fff" stroke="#111" stroke-width="1.25" stroke-linejoin="miter"/>
<polygon points="955.8,296.4 959.4,302.6 952.1,302.6" fill="#fff" stroke="#111" stroke-width="1.25" stroke-linejoin="miter"/>
<polygon points="960.0,291.4 963.6,297.6 956.4,297.6" fill="#fff" stroke="#111" stroke-width="1.25" stroke-linejoin="miter"/>
<line x1="652.1" y1="76.0" x2="1012.6" y2="359.0" stroke="#000" stroke-width="1.9" stroke-linecap="round" stroke-dasharray="0.1 7.96"/>
<line x1="652.9" y1="75.5" x2="1013.4" y2="358.5" stroke="#000" stroke-width="1.7"/>
</g>
<rect x="609.8" y="75.5" width="403.9" height="317.3" fill="none" stroke="#3a3a3a" stroke-width="1.4"/>
<g>
<path d="M609.8,392.8v5M609.8,75.5h-4.8M690.6,392.8v5M609.8,139.0h-4.8M771.4,392.8v5M609.8,202.4h-4.8M852.1,392.8v5M609.8,265.9h-4.8M932.9,392.8v5M609.8,329.3h-4.8M1013.7,392.8v5M609.8,392.8h-4.8" stroke="#3a3a3a" stroke-width="1.4" fill="none"/>
<text x="609.8" y="423.4" font-size="18" text-anchor="middle">-10</text>
<text x="690.6" y="423.4" font-size="18" text-anchor="middle">-8</text>
<text x="771.4" y="423.4" font-size="18" text-anchor="middle">-6</text>
<text x="852.1" y="423.4" font-size="18" text-anchor="middle">-4</text>
<text x="932.9" y="423.4" font-size="18" text-anchor="middle">-2</text>
<text x="1013.7" y="423.4" font-size="18" text-anchor="middle">0</text>
<text x="596.4" y="81.6" font-size="18" text-anchor="end">4</text>
<text x="596.4" y="145.1" font-size="18" text-anchor="end">2</text>
<text x="596.4" y="208.5" font-size="18" text-anchor="end">0</text>
<text x="596.4" y="272.0" font-size="18" text-anchor="end">-2</text>
<text x="596.4" y="335.4" font-size="18" text-anchor="end">-4</text>
<text x="596.4" y="398.9" font-size="18" text-anchor="end">-6</text>
<text x="1001.1" y="99.8" font-size="20" text-anchor="end">(A-2)</text>
<text transform="translate(552.1,299.8) rotate(-90)" font-size="20.3">Log <tspan font-style="italic">K</tspan><tspan font-style="italic" font-size="13" dy="5">p</tspan><tspan dy="-5" xml:space="preserve">  (m</tspan><tspan font-size="13" dy="-8">3</tspan><tspan dy="8">/μg)</tspan></text>
<text x="759.9" y="466.1" font-size="20.2" xml:space="preserve">Log <tspan font-style="italic">P</tspan><tspan font-style="italic" font-size="13" dy="5.5">l</tspan><tspan font-style="italic" font-size="13" dy="-14.5" dx="0.5">o</tspan><tspan dy="9">  (Pa)</tspan></text>
</g>
<rect x="614.3" y="298.8" width="136.5" height="89.3" fill="#fff" stroke="#3a3a3a" stroke-width="1.2"/>
<circle cx="627.9" cy="313.4" r="4.05" fill="#000"/>
<polygon points="627.9,331.8 631.5,337.9 624.2,337.9" fill="#858585" stroke="#111" stroke-width="1.25" stroke-linejoin="miter"/>
<circle cx="627.9" cy="357.2" r="3.5" fill="#fff" stroke="#000" stroke-width="1.3"/>
<polygon points="627.9,374.8 631.5,380.9 624.2,380.9" fill="#fff" stroke="#111" stroke-width="1.25" stroke-linejoin="miter"/>
<text x="655.8" y="318.9" font-size="16.2">MOUDI, KS</text>
<text x="655.8" y="340.5" font-size="16.2">MOUDI, NS</text>
<text x="655.8" y="362.3" font-size="16.2">Hi-vol, KS</text>
<text x="655.8" y="383.8" font-size="16.2">Hi-vol, NS</text>
<path d="M121.6,688.5V799.8M115.4,688.5h12.4M115.4,799.8h12.4M121.6,699.8V734.7M115.4,699.8h12.4M115.4,734.7h12.4M146.9,707.4V770.6M140.7,707.4h12.4M140.7,770.6h12.4M146.9,709.8V752.6M140.7,709.8h12.4M140.7,752.6h12.4M172.1,671V732.1M165.9,671h12.4M165.9,732.1h12.4M172.1,702.8V730.1M165.9,702.8h12.4M165.9,730.1h12.4M197.4,692.9V729.1M191.2,692.9h12.4M191.2,729.1h12.4M197.4,703.4V729.1M191.2,703.4h12.4M191.2,729.1h12.4M222.6,696.9V790.5M216.4,696.9h12.4M216.4,790.5h12.4M222.6,707.2V734.1M216.4,707.2h12.4M216.4,734.1h12.4M247.9,698.8V747.6M241.7,698.8h12.4M241.7,747.6h12.4M247.9,706.2V808M241.7,706.2h12.4M241.7,808h12.4M273.1,699.2V761.2M266.9,699.2h12.4M266.9,761.2h12.4M273.1,706.9V741.7M266.9,706.9h12.4M266.9,741.7h12.4M298.4,705.8V736.7M292.2,705.8h12.4M292.2,736.7h12.4M298.4,716.3V736.7M292.2,716.3h12.4M292.2,736.7h12.4M323.6,699.1V760.5M317.4,699.1h12.4M317.4,760.5h12.4M323.6,699.1V735.8M317.4,699.1h12.4M317.4,735.8h12.4M348.8,714.4V763.6M342.6,714.4h12.4M342.6,763.6h12.4M348.8,714.9V736.3M342.6,714.9h12.4M342.6,736.3h12.4M374.1,722.3V742.3M367.9,722.3h12.4M367.9,742.3h12.4M399.3,692.9V739.1M393.1,692.9h12.4M393.1,739.1h12.4M424.6,722.7V769.1M418.4,722.7h12.4M418.4,769.1h12.4M449.8,716.5V783.1M443.6,716.5h12.4M443.6,783.1h12.4M475.1,710.5V773.2M468.9,710.5h12.4M468.9,773.2h12.4" stroke="#000" stroke-width="1.4" fill="none"/>
<line x1="91.80000000000001" y1="707.1" x2="500.3" y2="707.1" stroke="#000" stroke-width="2"/>
<polyline points="121.6,704.2 146.9,730.3 172.1,684.9 197.4,709.2 222.6,712.2 247.9,712.2 273.1,718.2 298.4,725.1 323.6,722.7 348.8,722.3 374.1,730.3 399.3,705.5 424.6,735.6 449.8,730.9 475.1,724.5" fill="none" stroke="#000" stroke-width="1.5"/>
<polyline points="121.6,711.4 146.9,722.4 172.1,713.4 197.4,712.8 222.6,716.8 247.9,721.8 273.1,713.4 298.4,725.1 323.6,713.3 348.8,728.3 374.1,791.7 399.3,812.5 424.6,802.9 449.8,814.7" fill="none" stroke="#000" stroke-width="1.5"/>
<circle cx="121.6" cy="704.2" r="4.5" fill="#000"/>
<circle cx="146.9" cy="730.3" r="4.5" fill="#000"/>
<circle cx="172.1" cy="684.9" r="4.5" fill="#000"/>
<circle cx="197.4" cy="709.2" r="4.5" fill="#000"/>
<circle cx="222.6" cy="712.2" r="4.5" fill="#000"/>
<circle cx="247.9" cy="712.2" r="4.5" fill="#000"/>
<circle cx="273.1" cy="718.2" r="4.5" fill="#000"/>
<circle cx="298.4" cy="725.1" r="4.5" fill="#000"/>
<circle cx="323.6" cy="722.7" r="4.5" fill="#000"/>
<circle cx="348.8" cy="722.3" r="4.5" fill="#000"/>
<circle cx="374.1" cy="730.3" r="4.5" fill="#000"/>
<circle cx="399.3" cy="705.5" r="4.5" fill="#000"/>
<circle cx="424.6" cy="735.6" r="4.5" fill="#000"/>
<circle cx="449.8" cy="730.9" r="4.5" fill="#000"/>
<circle cx="475.1" cy="724.5" r="4.5" fill="#000"/>
<circle cx="121.6" cy="711.4" r="3.6" fill="#fff" stroke="#000" stroke-width="1.6"/>
<circle cx="146.9" cy="722.4" r="3.6" fill="#fff" stroke="#000" stroke-width="1.6"/>
<circle cx="172.1" cy="713.4" r="3.6" fill="#fff" stroke="#000" stroke-width="1.6"/>
<circle cx="197.4" cy="712.8" r="3.6" fill="#fff" stroke="#000" stroke-width="1.6"/>
<circle cx="222.6" cy="716.8" r="3.6" fill="#fff" stroke="#000" stroke-width="1.6"/>
<circle cx="247.9" cy="721.8" r="3.6" fill="#fff" stroke="#000" stroke-width="1.6"/>
<circle cx="273.1" cy="713.4" r="3.6" fill="#fff" stroke="#000" stroke-width="1.6"/>
<circle cx="298.4" cy="725.1" r="3.6" fill="#fff" stroke="#000" stroke-width="1.6"/>
<circle cx="323.6" cy="713.3" r="3.6" fill="#fff" stroke="#000" stroke-width="1.6"/>
<circle cx="348.8" cy="728.3" r="3.6" fill="#fff" stroke="#000" stroke-width="1.6"/>
<circle cx="374.1" cy="791.7" r="3.6" fill="#fff" stroke="#000" stroke-width="1.6"/>
<circle cx="399.3" cy="812.5" r="3.6" fill="#fff" stroke="#000" stroke-width="1.6"/>
<circle cx="424.6" cy="802.9" r="3.6" fill="#fff" stroke="#000" stroke-width="1.6"/>
<circle cx="449.8" cy="814.7" r="3.6" fill="#fff" stroke="#000" stroke-width="1.6"/>
<rect x="96.4" y="548.9" width="403.9" height="317.1" fill="none" stroke="#3a3a3a" stroke-width="1.4"/>
<path d="M121.6,866.0v5M146.9,866.0v5M172.1,866.0v5M197.4,866.0v5M222.6,866.0v5M247.9,866.0v5M273.1,866.0v5M298.4,866.0v5M323.6,866.0v5M348.8,866.0v5M374.1,866.0v5M399.3,866.0v5M424.6,866.0v5M449.8,866.0v5M475.1,866.0v5M96.4,548.9h-4.6M96.4,601.8h-4.6M96.4,654.6h-4.6M96.4,707.5h-4.6M96.4,760.3h-4.6M96.4,813.1h-4.6M96.4,866.0h-4.6" stroke="#3a3a3a" stroke-width="1.4" fill="none"/>
<text x="46.6" y="555.0" font-size="18">1e+3</text>
<text x="46.6" y="607.9" font-size="18">1e+2</text>
<text x="46.6" y="660.7" font-size="18">1e+1</text>
<text x="46.6" y="713.6" font-size="18">1e+0</text>
<text x="46.6" y="766.4" font-size="18">1e-1</text>
<text x="46.6" y="819.2" font-size="18">1e-2</text>
<text x="46.6" y="872.1" font-size="18">1e-3</text>
<text transform="translate(126.3,877.6) rotate(-90)" font-size="14" text-anchor="end">PH</text>
<text transform="translate(151.6,877.6) rotate(-90)" font-size="14" text-anchor="end">AN</text>
<text transform="translate(176.8,877.6) rotate(-90)" font-size="14" text-anchor="end">MePH</text>
<text transform="translate(202.1,877.6) rotate(-90)" font-size="14" text-anchor="end">FLR</text>
<text transform="translate(227.3,877.6) rotate(-90)" font-size="14" text-anchor="end">PY</text>
<text transform="translate(252.6,877.6) rotate(-90)" font-size="14" text-anchor="end">BaA</text>
<text transform="translate(277.8,877.6) rotate(-90)" font-size="14" text-anchor="end">CH</text>
<text transform="translate(303.1,877.6) rotate(-90)" font-size="14" text-anchor="end">BbF</text>
<text transform="translate(328.3,877.6) rotate(-90)" font-size="14" text-anchor="end">BkF</text>
<text transform="translate(353.5,877.6) rotate(-90)" font-size="14" text-anchor="end">BeP</text>
<text transform="translate(378.8,877.6) rotate(-90)" font-size="14" text-anchor="end">BaP</text>
<text transform="translate(404.0,877.6) rotate(-90)" font-size="14" text-anchor="end">PE</text>
<text transform="translate(429.3,877.6) rotate(-90)" font-size="14" text-anchor="end">IP</text>
<text transform="translate(454.5,877.6) rotate(-90)" font-size="14" text-anchor="end">BPE</text>
<text transform="translate(479.8,877.6) rotate(-90)" font-size="14" text-anchor="end">DA</text>
<text x="487.7" y="573.2" font-size="20" text-anchor="end">(B-1)</text>
<text transform="translate(24.5,706.4) rotate(-90)" font-size="20.3" text-anchor="middle">Concentration ratio (KS/NS)</text>
<text x="310" y="963.6" font-size="22.6" text-anchor="middle">PAHs compounds</text>
<line x1="103.5" y1="823.7" x2="141.0" y2="823.7" stroke="#000" stroke-width="1.5"/>
<circle cx="122.2" cy="823.7" r="4.5" fill="#000"/>
<text x="150.0" y="829.2" font-size="16.2">particle phase</text>
<line x1="103.5" y1="845.6" x2="141.0" y2="845.6" stroke="#000" stroke-width="1.5"/>
<circle cx="122.2" cy="845.6" r="3.6" fill="#fff" stroke="#000" stroke-width="1.6"/>
<text x="150.0" y="851.1" font-size="16.2">vapor phase</text>
<path d="M635.0,703.2V716.2M628.8,703.2h12.4M628.8,716.2h12.4M635.0,733.7V743.7M628.8,733.7h12.4M628.8,743.7h12.4M660.3,706.2V719.2M654.1,706.2h12.4M654.1,719.2h12.4M660.3,753.6V757.6M654.1,753.6h12.4M654.1,757.6h12.4M685.5,706.2V716.6M679.3,706.2h12.4M679.3,716.6h12.4M685.5,744.7V750.2M679.3,744.7h12.4M679.3,750.2h12.4M710.8,700.2V717.2M704.6,700.2h12.4M704.6,717.2h12.4M710.8,743.1V749M704.6,743.1h12.4M704.6,749h12.4M736.0,702.8V719.8M729.8,702.8h12.4M729.8,719.8h12.4M736.0,749.6V756M729.8,749.6h12.4M729.8,756h12.4M761.3,707.8V725.3M755.1,707.8h12.4M755.1,725.3h12.4M761.3,717.8V741.1M755.1,717.8h12.4M755.1,741.1h12.4M786.5,702.4V719.2M780.3,702.4h12.4M780.3,719.2h12.4M786.5,725.3V740.7M780.3,725.3h12.4M780.3,740.7h12.4M811.8,711.2V724.4M805.5,711.2h12.4M805.5,724.4h12.4M811.8,774.9V780.6M805.5,774.9h12.4M805.5,780.6h12.4M837.0,693.3V731.3M830.8,693.3h12.4M830.8,731.3h12.4M837.0,787.8V804.6M830.8,787.8h12.4M830.8,804.6h12.4M862.2,702.5V725.3M856.0,702.5h12.4M856.0,725.3h12.4M862.2,795.4V796.2M856.0,795.4h12.4M856.0,796.2h12.4M887.5,705.8V726.6M881.3,705.8h12.4M881.3,726.6h12.4M887.5,795.2V796.0M881.3,795.2h12.4M881.3,796.0h12.4M912.7,705.8V734.8M906.5,705.8h12.4M906.5,734.8h12.4M938.0,701.5V732M931.8,701.5h12.4M931.8,732h12.4M963.2,701.3V732.4M957.0,701.3h12.4M957.0,732.4h12.4M988.5,701.5V741.2M982.3,701.5h12.4M982.3,741.2h12.4" stroke="#000" stroke-width="1.4" fill="none"/>
<line x1="605.1999999999999" y1="707.1" x2="1013.7" y2="707.1" stroke="#000" stroke-width="2"/>
<polyline points="635.0,708.8 660.3,712.2 685.5,710.8 710.8,707.2 736.0,709.8 761.3,714.8 786.5,711.4 811.8,717.0 837.0,705.1 862.2,711.1 887.5,713.3 912.7,715.4 938.0,712 963.2,711.6 988.5,713.7" fill="none" stroke="#000" stroke-width="1.5"/>
<polyline points="635.0,738.7 660.3,755.6 685.5,747.3 710.8,746.1 736.0,752.6 761.3,741.1 786.5,740.7 811.8,777.5 837.0,794.9 862.2,795.8 887.5,795.6" fill="none" stroke="#000" stroke-width="1.5"/>
<circle cx="635.0" cy="708.8" r="4.5" fill="#000"/>
<circle cx="660.3" cy="712.2" r="4.5" fill="#000"/>
<circle cx="685.5" cy="710.8" r="4.5" fill="#000"/>
<circle cx="710.8" cy="707.2" r="4.5" fill="#000"/>
<circle cx="736.0" cy="709.8" r="4.5" fill="#000"/>
<circle cx="761.3" cy="714.8" r="4.5" fill="#000"/>
<circle cx="786.5" cy="711.4" r="4.5" fill="#000"/>
<circle cx="811.8" cy="717.0" r="4.5" fill="#000"/>
<circle cx="837.0" cy="705.1" r="4.5" fill="#000"/>
<circle cx="862.2" cy="711.1" r="4.5" fill="#000"/>
<circle cx="887.5" cy="713.3" r="4.5" fill="#000"/>
<circle cx="912.7" cy="715.4" r="4.5" fill="#000"/>
<circle cx="938.0" cy="712.0" r="4.5" fill="#000"/>
<circle cx="963.2" cy="711.6" r="4.5" fill="#000"/>
<circle cx="988.5" cy="713.7" r="4.5" fill="#000"/>
<circle cx="635.0" cy="738.7" r="3.6" fill="#fff" stroke="#000" stroke-width="1.6"/>
<circle cx="660.3" cy="755.6" r="3.6" fill="#fff" stroke="#000" stroke-width="1.6"/>
<circle cx="685.5" cy="747.3" r="3.6" fill="#fff" stroke="#000" stroke-width="1.6"/>
<circle cx="710.8" cy="746.1" r="3.6" fill="#fff" stroke="#000" stroke-width="1.6"/>
<circle cx="736.0" cy="752.6" r="3.6" fill="#fff" stroke="#000" stroke-width="1.6"/>
<circle cx="761.3" cy="741.1" r="3.6" fill="#fff" stroke="#000" stroke-width="1.6"/>
<circle cx="786.5" cy="740.7" r="3.6" fill="#fff" stroke="#000" stroke-width="1.6"/>
<circle cx="811.8" cy="777.5" r="3.6" fill="#fff" stroke="#000" stroke-width="1.6"/>
<circle cx="837.0" cy="794.9" r="3.6" fill="#fff" stroke="#000" stroke-width="1.6"/>
<circle cx="862.2" cy="795.8" r="3.6" fill="#fff" stroke="#000" stroke-width="1.6"/>
<circle cx="887.5" cy="795.6" r="3.6" fill="#fff" stroke="#000" stroke-width="1.6"/>
<rect x="609.8" y="548.9" width="403.9" height="317.1" fill="none" stroke="#3a3a3a" stroke-width="1.4"/>
<path d="M635.0,866.0v5M660.3,866.0v5M685.5,866.0v5M710.8,866.0v5M736.0,866.0v5M761.3,866.0v5M786.5,866.0v5M811.8,866.0v5M837.0,866.0v5M862.2,866.0v5M887.5,866.0v5M912.7,866.0v5M938.0,866.0v5M963.2,866.0v5M988.5,866.0v5M609.8,548.9h-4.6M609.8,601.8h-4.6M609.8,654.6h-4.6M609.8,707.5h-4.6M609.8,760.3h-4.6M609.8,813.1h-4.6M609.8,866.0h-4.6" stroke="#3a3a3a" stroke-width="1.4" fill="none"/>
<text x="560.0" y="555.0" font-size="18">1e+3</text>
<text x="560.0" y="607.9" font-size="18">1e+2</text>
<text x="560.0" y="660.7" font-size="18">1e+1</text>
<text x="560.0" y="713.6" font-size="18">1e+0</text>
<text x="560.0" y="766.4" font-size="18">1e-1</text>
<text x="560.0" y="819.2" font-size="18">1e-2</text>
<text x="560.0" y="872.1" font-size="18">1e-3</text>
<text transform="translate(639.7,877.6) rotate(-90)" font-size="14" text-anchor="end">PH</text>
<text transform="translate(665.0,877.6) rotate(-90)" font-size="14" text-anchor="end">AN</text>
<text transform="translate(690.2,877.6) rotate(-90)" font-size="14" text-anchor="end">MePH</text>
<text transform="translate(715.5,877.6) rotate(-90)" font-size="14" text-anchor="end">FLR</text>
<text transform="translate(740.7,877.6) rotate(-90)" font-size="14" text-anchor="end">PY</text>
<text transform="translate(766.0,877.6) rotate(-90)" font-size="14" text-anchor="end">BaA</text>
<text transform="translate(791.2,877.6) rotate(-90)" font-size="14" text-anchor="end">CH</text>
<text transform="translate(816.5,877.6) rotate(-90)" font-size="14" text-anchor="end">BbF</text>
<text transform="translate(841.7,877.6) rotate(-90)" font-size="14" text-anchor="end">BkF</text>
<text transform="translate(866.9,877.6) rotate(-90)" font-size="14" text-anchor="end">BeP</text>
<text transform="translate(892.2,877.6) rotate(-90)" font-size="14" text-anchor="end">BaP</text>
<text transform="translate(917.4,877.6) rotate(-90)" font-size="14" text-anchor="end">PE</text>
<text transform="translate(942.7,877.6) rotate(-90)" font-size="14" text-anchor="end">IP</text>
<text transform="translate(967.9,877.6) rotate(-90)" font-size="14" text-anchor="end">BPE</text>
<text transform="translate(993.2,877.6) rotate(-90)" font-size="14" text-anchor="end">DA</text>
<text x="1001.1" y="573.2" font-size="20" text-anchor="end">(B-2)</text>
<text transform="translate(537.2,707.4) rotate(-90)" font-size="20.3" text-anchor="middle">Concentration ratio (KS/NS)</text>
<text x="823" y="966.2" font-size="22.6" text-anchor="middle">PAHs compounds</text>
<line x1="616.9" y1="823.7" x2="654.4" y2="823.7" stroke="#000" stroke-width="1.5"/>
<circle cx="635.6" cy="823.7" r="4.5" fill="#000"/>
<text x="663.4" y="829.2" font-size="16.2">particle phase</text>
<line x1="616.9" y1="845.6" x2="654.4" y2="845.6" stroke="#000" stroke-width="1.5"/>
<circle cx="635.6" cy="845.6" r="3.6" fill="#fff" stroke="#000" stroke-width="1.6"/>
<text x="663.4" y="851.1" font-size="16.2">vapor phase</text>
</svg>
</body></html>
